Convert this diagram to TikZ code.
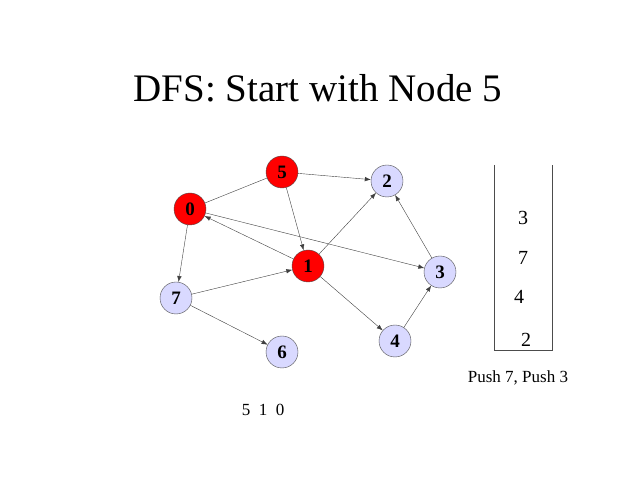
\documentclass[tikz,border=0pt]{standalone}
\usepackage{fontspec}
\usetikzlibrary{arrows.meta}
\setmainfont{Liberation Serif}
\begin{document}
\begin{tikzpicture}[x=1pt,y=-1pt,
  vis/.style={circle,draw=black!70,fill=red,minimum size=32pt,inner sep=0pt,font=\fontsize{19}{19}\selectfont\bfseries},
  unv/.style={vis,fill=blue!15},
  arr/.style={-{Latex[length=6pt,width=4.5pt]},black!75}]
\useasboundingbox (0,0) rectangle (638,478);
\node (title) at (318,88) {\fontsize{39}{39}\selectfont DFS: Start with Node 5};
\node[vis] (n5) at (282,172) {5};
\node[unv] (n2) at (387,181) {2};
\node[vis] (n0) at (190,209) {0};
\node[vis] (n1) at (308,266) {1};
\node[unv] (n3) at (440,272) {3};
\node[unv] (n7) at (176,298) {7};
\node[unv] (n6) at (282,352) {6};
\node[unv] (n4) at (395,341) {4};
\draw[black!75] (n0) -- (n5);
\draw[arr] (n5) -- (n2);
\draw[arr] (n5) -- (n1);
\draw[arr] (n1) -- (n0);
\draw[arr] (n0) -- (n3);
\draw[arr] (n0) -- (n7);
\draw[arr] (n7) -- (n1);
\draw[arr] (n7) -- (n6);
\draw[arr] (n1) -- (n2);
\draw[arr] (n1) -- (n4);
\draw[arr] (n4) -- (n3);
\draw[arr] (n3) -- (n2);
\coordinate (sa) at (494,165);
\coordinate (sb) at (494,350);
\coordinate (sc) at (552,350);
\coordinate (sd) at (552,165);
\draw[black!70] (sa) -- (sb) -- (sc) -- (sd);
\begin{scope}[every node/.style={font=\fontsize{20}{20}\selectfont}]
\node (s3) at (523,218) {3};
\node (s7) at (523,258) {7};
\node (s4) at (519,297) {4};
\node (s2) at (526,340) {2};
\end{scope}
\node[font=\fontsize{17}{17}\selectfont] (push) at (518,378) {Push 7, Push 3};
\node[font=\fontsize{17}{17}\selectfont] (vis) at (263,410) {5\ \ 1\ \ 0};
\end{tikzpicture}
\end{document}
